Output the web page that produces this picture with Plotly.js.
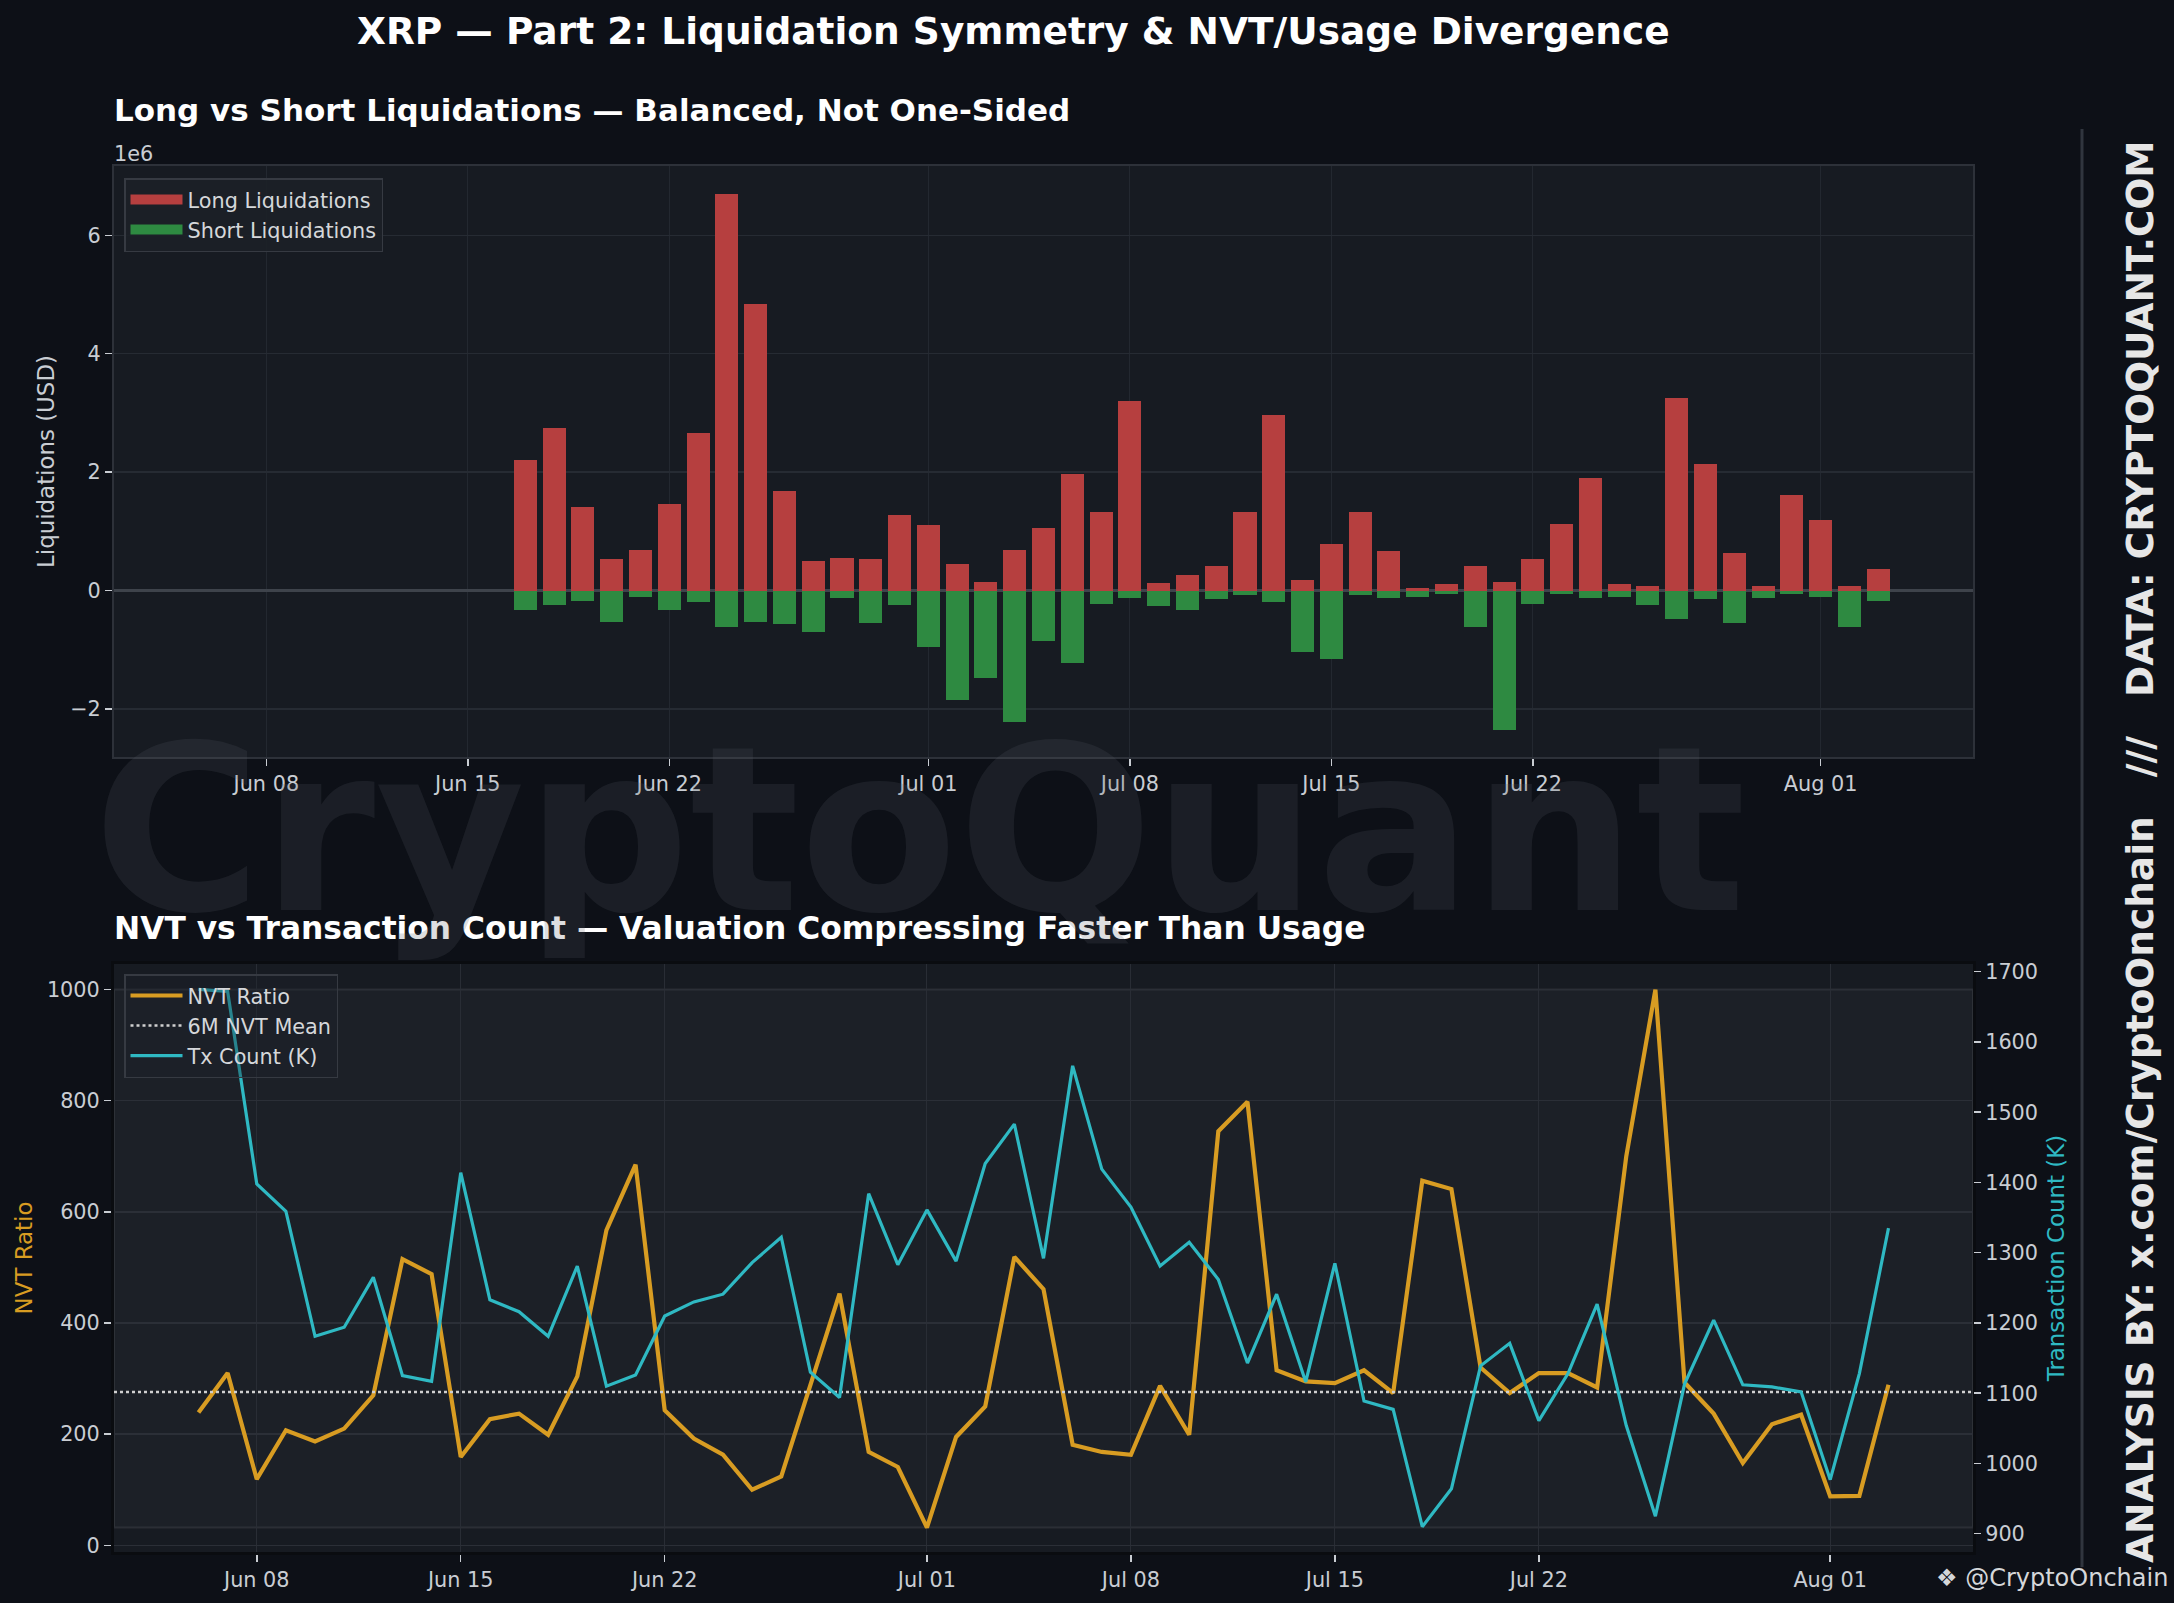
<!DOCTYPE html>
<html><head><meta charset="utf-8">
<script src="https://cdn.plot.ly/plotly-3.0.1.min.js"></script>
<style>html,body{margin:0;padding:0;background:#0d1017;}</style>
</head><body><div id="chart" style="width:2174px;height:1603px;"></div>
<script>
// ---------- DATA ----------
const liqDates = [
 '2025-06-17','2025-06-18','2025-06-19','2025-06-20','2025-06-21','2025-06-22','2025-06-23','2025-06-24','2025-06-25','2025-06-26','2025-06-27','2025-06-28','2025-06-29','2025-06-30',
 '2025-07-01','2025-07-02','2025-07-03','2025-07-04','2025-07-05','2025-07-06','2025-07-07','2025-07-08','2025-07-09','2025-07-10','2025-07-11','2025-07-12','2025-07-13','2025-07-14','2025-07-15','2025-07-16',
 '2025-07-17','2025-07-18','2025-07-19','2025-07-20','2025-07-21','2025-07-22','2025-07-23','2025-07-24','2025-07-25','2025-07-26','2025-07-27','2025-07-28','2025-07-29','2025-07-30','2025-07-31',
 '2025-08-01','2025-08-02','2025-08-03'];
const longLiq = [
 2200000,2750000,1410000,530000,680000,1460000,2660000,6690000,4840000,1680000,500000,550000,530000,1270000,
 1110000,450000,150000,680000,1050000,1970000,1330000,3200000,120000,260000,410000,1330000,2960000,180000,790000,1330000,
 670000,40000,110000,410000,150000,530000,1120000,1900000,110000,70000,3260000,2140000,630000,70000,1610000,
 1190000,70000,370000];
const shortLiq = [
 -330000,-240000,-180000,-530000,-100000,-330000,-200000,-610000,-530000,-560000,-700000,-120000,-550000,-240000,
 -950000,-1850000,-1480000,-2220000,-850000,-1220000,-230000,-120000,-260000,-330000,-150000,-70000,-200000,-1040000,-1160000,-70000,
 -120000,-100000,-60000,-610000,-2360000,-230000,-60000,-120000,-110000,-240000,-480000,-150000,-550000,-120000,-60000,
 -110000,-610000,-180000];

const nvtDates = [
 '2025-06-06','2025-06-07','2025-06-08','2025-06-09','2025-06-10','2025-06-11','2025-06-12','2025-06-13','2025-06-14','2025-06-15','2025-06-16',
 '2025-06-17','2025-06-18','2025-06-19','2025-06-20','2025-06-21','2025-06-22','2025-06-23','2025-06-24','2025-06-25','2025-06-26','2025-06-27','2025-06-28','2025-06-29','2025-06-30',
 '2025-07-01','2025-07-02','2025-07-03','2025-07-04','2025-07-05','2025-07-06','2025-07-07','2025-07-08','2025-07-09','2025-07-10','2025-07-11','2025-07-12','2025-07-13','2025-07-14','2025-07-15','2025-07-16',
 '2025-07-17','2025-07-18','2025-07-19','2025-07-20','2025-07-21','2025-07-22','2025-07-23','2025-07-24','2025-07-25','2025-07-26','2025-07-27','2025-07-28','2025-07-29','2025-07-30','2025-07-31',
 '2025-08-01','2025-08-02','2025-08-03'];
const nvtRatio = [
 239,310,119,207,187,210,270,515,488,159,227,
 237,199,304,567,685,243,192,163,100,124,290,453,168,141,
 32,195,250,519,461,181,168,163,287,199,745,798,315,295,292,315,
 274,656,641,320,274,310,310,284,700,1000,293,237,148,218,235,
 88,89,289];
const txCount = [
 1675,1672,1398,1359,1181,1194,1265,1125,1117,1414,1233,
 1216,1181,1281,1110,1126,1210,1230,1241,1286,1322,1130,1094,1384,1283,
 1361,1288,1427,1483,1292,1566,1419,1365,1281,1315,1262,1143,1241,1116,1285,1089,
 1077,910,964,1139,1171,1061,1128,1227,1054,925,1113,1204,1112,1109,1102,
 977,1128,1335];
const nvtMean = 276;

const dateTickVals = ['2025-06-08','2025-06-15','2025-06-22','2025-07-01','2025-07-08','2025-07-15','2025-07-22','2025-08-01'];
const dateTickText = ['Jun 08','Jun 15','Jun 22','Jul 01','Jul 08','Jul 15','Jul 22','Aug 01'];
const liqTickVals = [-2000000,0,2000000,4000000,6000000];
const liqTickText = ['\u22122','0','2','4','6'];
const nvtTickVals = [0,200,400,600,800,1000];
const txTickVals = [900,1000,1100,1200,1300,1400,1500,1600,1700];

// ---------- LAYOUT HELPERS ----------
const W = 2174, H = 1603;
const px = v => v / W;
const py = v => 1 - v / H;
const X1_RANGE = ['2025-06-02 17:00', '2025-08-06 07:00'];
const X2_RANGE = ['2025-06-03 02:24', '2025-08-05 21:36'];
const FONT = 'DejaVu Sans, Verdana, sans-serif';
const TICKC = '#c9cdd3';
const DAY = 86400000;
const RED = '#b63f3f', GREEN = '#2e8a41';

const traces = [
  {type:'bar', x: liqDates, y: longLiq, name:'Long Liquidations', width: 0.8*DAY, showlegend:false,
   marker:{color:RED, line:{width:0}}, xaxis:'x', yaxis:'y'},
  {type:'bar', x: liqDates, y: shortLiq, name:'Short Liquidations', width: 0.8*DAY, showlegend:false,
   marker:{color:GREEN, line:{width:0}}, xaxis:'x', yaxis:'y'},
  // legend patches for the bar series (no visible marks)
  {type:'scatter', mode:'lines', x: [liqDates[0]], y: [null], name:'Long Liquidations', showlegend:true,
   line:{color:RED, width:17}, xaxis:'x', yaxis:'y', legend:'legend'},
  {type:'scatter', mode:'lines', x: [liqDates[0]], y: [null], name:'Short Liquidations', showlegend:true,
   line:{color:GREEN, width:17}, xaxis:'x', yaxis:'y', legend:'legend'},
  {type:'scatter', mode:'lines', x: nvtDates, y: nvtRatio, name:'NVT Ratio',
   line:{color:'#d89c22', width:4.2}, xaxis:'x2', yaxis:'y2', legend:'legend2', legendrank:1},
  {type:'scatter', mode:'lines', x: X2_RANGE, y: [nvtMean, nvtMean], name:'6M NVT Mean',
   line:{color:'#d0d0d0', width:2.5, dash:'dot'}, xaxis:'x2', yaxis:'y2', legend:'legend2', legendrank:2},
  {type:'scatter', mode:'lines', x: nvtDates, y: txCount, name:'Tx Count (K)',
   line:{color:'#2fb9c3', width:3.2}, xaxis:'x2', yaxis:'y3', legend:'legend2', legendrank:3}
];

const axisCommon = {
  showgrid:true, zeroline:false, ticks:'outside', ticklen:7, tickwidth:1.5, tickcolor:TICKC,
  tickfont:{family:FONT, size:20.8, color:TICKC}, automargin:false, showline:true, mirror:true
};

const layout = {
  width:W, height:H, autosize:false,
  margin:{l:0, r:0, t:0, b:0},
  paper_bgcolor:'#0d1017', plot_bgcolor:'#171b22',
  font:{family:FONT, color:'#e0e0e0'},
  barmode:'relative', bargap:0,
  showlegend:true,
  xaxis: Object.assign({}, axisCommon, {
    type:'date', domain:[px(114), px(1973)], anchor:'y', range:X1_RANGE,
    tickmode:'array', tickvals:dateTickVals, ticktext:dateTickText,
    gridcolor:'#232830', gridwidth:1, linecolor:'#2d3139', linewidth:2
  }),
  yaxis: Object.assign({}, axisCommon, {
    domain:[py(757), py(166)], anchor:'x', range:[-2810000, 7170000],
    tickmode:'array', tickvals:liqTickVals, ticktext:liqTickText,
    gridcolor:'#262b33', gridwidth:1.5, linecolor:'#2d3139', linewidth:2,
    zeroline:true, zerolinecolor:'#3e434b', zerolinewidth:2.5,
    title:{text:'Liquidations (USD)', font:{family:FONT, size:22.9, color:'#c9cdd3'}, standoff:9}
  }),
  xaxis2: Object.assign({}, axisCommon, {
    type:'date', domain:[px(114), px(1973)], anchor:'y2', range:X2_RANGE,
    tickmode:'array', tickvals:dateTickVals, ticktext:dateTickText,
    gridcolor:'#292d35', gridwidth:1, linecolor:'#0a0c10', linewidth:3
  }),
  yaxis2: Object.assign({}, axisCommon, {
    domain:[py(1552), py(964)], anchor:'x2', range:[-12, 1046],
    tickmode:'array', tickvals:nvtTickVals,
    gridcolor:'#2b2f37', gridwidth:1.5, linecolor:'#0a0c10', linewidth:3,
    title:{text:'NVT Ratio', font:{family:FONT, size:22.9, color:'#d89c22'}, standoff:8}
  }),
  yaxis3: Object.assign({}, axisCommon, {
    overlaying:'y2', side:'right', anchor:'x2', range:[874, 1711],
    tickmode:'array', tickvals:txTickVals, showgrid:false, showline:false, mirror:false,
    title:{text:'Transaction Count (K)', font:{family:FONT, size:22.9, color:'#2fb9c3'}, standoff:10}
  }),
  legend:{x:px(124), y:py(178), xanchor:'left', yanchor:'top',
    bgcolor:'rgba(28,32,39,0.9)', bordercolor:'#363a42', borderwidth:1.5, itemwidth:52,
    font:{family:FONT, size:20.8, color:'#d5d7da'}, tracegroupgap:0, traceorder:'normal'},
  legend2:{x:px(124), y:py(974), xanchor:'left', yanchor:'top',
    bgcolor:'rgba(30,34,42,0.35)', bordercolor:'#363a42', borderwidth:1.5, itemwidth:52,
    font:{family:FONT, size:20.8, color:'#d5d7da'}, tracegroupgap:0, traceorder:'normal'},
  shapes:[
    {type:'rect', xref:'x2 domain', x0:0, x1:1, yref:'y2',
     y0:Math.min(...nvtRatio), y1:Math.max(...nvtRatio),
     fillcolor:'rgba(255,255,255,0.022)', line:{color:'rgba(255,255,255,0.08)', width:2}, layer:'below'},
    {type:'line', xref:'paper', yref:'paper', x0:px(2082), x1:px(2082), y0:py(129), y1:py(1567),
     line:{color:'#30353e', width:3}}
  ],
  annotations:[
    {text:'<b>XRP — Part 2: Liquidation Symmetry &amp; NVT/Usage Divergence</b>', xref:'paper', yref:'paper',
     x:px(1013), y:py(31), xanchor:'center', yanchor:'middle', showarrow:false,
     font:{family:FONT, size:37.5, color:'#ffffff'}},
    {text:'<b>Long vs Short Liquidations — Balanced, Not One-Sided</b>', xref:'paper', yref:'paper',
     x:px(112), y:py(110), xanchor:'left', yanchor:'middle', showarrow:false,
     font:{family:FONT, size:31, color:'#ffffff'}},
    {text:'<b>NVT vs Transaction Count — Valuation Compressing Faster Than Usage</b>', xref:'paper', yref:'paper',
     x:px(112), y:py(928), xanchor:'left', yanchor:'middle', showarrow:false,
     font:{family:FONT, size:31.3, color:'#ffffff'}},
    {text:'1e6', xref:'paper', yref:'paper', x:px(112), y:py(154), xanchor:'left', yanchor:'middle', showarrow:false,
     font:{family:FONT, size:20.8, color:TICKC}},
    {text:'<b>CryptoQuant</b>', xref:'paper', yref:'paper', x:px(919), y:py(830), xanchor:'center', yanchor:'middle',
     showarrow:false, font:{family:FONT, size:230, color:'rgba(83,88,98,0.2)'}},
    {text:'<b>ANALYSIS BY: x.com/CryptoOnchain   ///   DATA: CRYPTOQUANT.COM</b>', xref:'paper', yref:'paper',
     x:px(2140), y:py(852), xanchor:'center', yanchor:'middle', textangle:-90, showarrow:false,
     font:{family:FONT, size:37.5, color:'#e6e6e6'}},
    {text:'\u2756 @CryptoOnchain', xref:'paper', yref:'paper', x:px(2052), y:py(1578), xanchor:'center', yanchor:'middle',
     showarrow:false, font:{family:FONT, size:24, color:'#d5d7da'}}
  ]
};

Plotly.newPlot('chart', traces, layout, {staticPlot:true, displayModeBar:false});
</script>
</body></html>
